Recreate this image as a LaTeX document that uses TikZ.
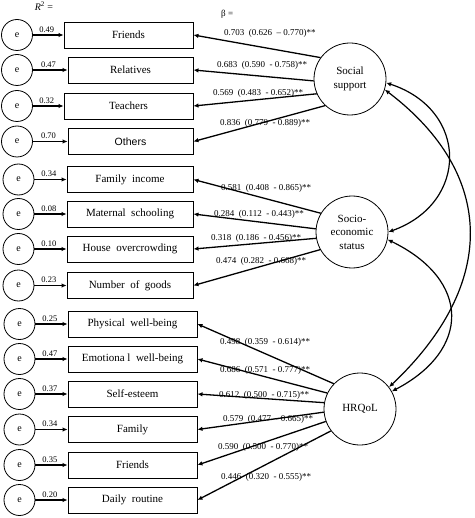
\documentclass[tikz,border=0pt]{standalone}
\usepackage{fontspec}
\setmainfont{Liberation Serif}
\newfontfamily\sansf{Liberation Sans}
\usetikzlibrary{arrows.meta}
\begin{document}
\begin{tikzpicture}[x=1pt,y=-1pt,
 obs/.style={draw, line width=0.9pt, rectangle, minimum height=26pt, inner sep=0pt, font=\fontsize{11}{13}\selectfont},
 err/.style={draw, line width=0.8pt, circle, minimum size=31pt, inner sep=0pt, font=\fontsize{10}{12}\selectfont},
 lat/.style={draw, line width=0.8pt, circle, minimum size=72pt, inner sep=0pt, align=center, font=\fontsize{11}{14}\selectfont},
 arr/.style={line width=1.3pt, -{Latex[length=5pt,width=4.5pt]}},
 cov/.style={line width=1.2pt, {Latex[length=5pt,width=4.5pt]}-{Latex[length=5pt,width=4.5pt]}},
 coef/.style={anchor=west, inner sep=0pt, font=\fontsize{9}{10}\selectfont},
 rsq/.style={above, inner sep=2pt, font=\fontsize{8.5}{10}\selectfont}
]
\useasboundingbox (0,0) rectangle (474,518);

% header labels
\node[font=\fontsize{10}{12}\selectfont] (rhead) at (44,6) {\textit{R}\textsuperscript{2} =};
\node[anchor=west, inner sep=0pt, font=\fontsize{9}{10}\selectfont] (bhead) at (221,14) {β =};

% latent variables
\node[lat] (ss) at (350,79) {Social\\support};
\node[lat, font=\fontsize{11}{13.5}\selectfont] (ses) at (352,232) {Socio-\\economic\\status};
\node[lat] (hrq) at (360,409) {HRQoL};

% observed variables
\node[obs, minimum width=129pt] (b1) at (128.5,35) {Friends};
\node[obs, minimum width=125pt] (b2) at (130.5,70) {Relatives};
\node[obs, minimum width=129pt] (b3) at (128.5,106) {Teachers};
\node[obs, minimum width=125pt] (b4) at (130.5,141.5) {\sansf\fontsize{10.5}{13}\selectfont Others};
\node[obs, minimum width=126pt] (b5) at (130,179.5) {Family\ \ income};
\node[obs, minimum width=126pt] (b6) at (130,214) {Maternal\ \ schooling};
\node[obs, minimum width=126pt] (b7) at (130,249) {House\ \ overcrowding};
\node[obs, minimum width=126pt] (b8) at (130,285.5) {Number\ \ of\ \ goods};
\node[obs, minimum width=129pt] (b9) at (132.5,324) {Physical\ \ well-being};
\node[obs, minimum width=129pt] (b10) at (132.5,359) {Emotiona l\ \ well-being};
\node[obs, minimum width=129pt] (b11) at (132.5,394) {Self-esteem};
\node[obs, minimum width=129pt] (b12) at (132.5,429.5) {Family};
\node[obs, minimum width=129pt] (b13) at (132.5,465) {Friends};
\node[obs, minimum width=129pt] (b14) at (132.5,500) {Daily\ \ routine};

% error terms
\node[err] (e1) at (17,35) {e};
\node[err] (e2) at (17,70) {e};
\node[err] (e3) at (17,106) {e};
\node[err] (e4) at (17,141.5) {e};
\node[err] (e5) at (18.5,179.5) {e};
\node[err] (e6) at (18.5,214) {e};
\node[err] (e7) at (18.5,249) {e};
\node[err] (e8) at (18.5,285.5) {e};
\node[err] (e9) at (19.5,324) {e};
\node[err] (e10) at (19.5,359) {e};
\node[err] (e11) at (19.5,394) {e};
\node[err] (e12) at (19.5,429.5) {e};
\node[err] (e13) at (19.5,465) {e};
\node[err] (e14) at (19.5,500) {e};

% error arrows with R^2
\draw[arr] (e1) -- node[rsq, pos=0.45] {0.49} (b1);
\draw[arr] (e2) -- node[rsq, pos=0.45] {0.47} (b2);
\draw[arr] (e3) -- node[rsq, pos=0.45] {0.32} (b3);
\draw[arr] (e4) -- node[rsq, pos=0.45] {0.70} (b4);
\draw[arr] (e5) -- node[rsq, pos=0.45] {0.34} (b5);
\draw[arr] (e6) -- node[rsq, pos=0.45] {0.08} (b6);
\draw[arr] (e7) -- node[rsq, pos=0.45] {0.10} (b7);
\draw[arr] (e8) -- node[rsq, pos=0.45] {0.23} (b8);
\draw[arr] (e9) -- node[rsq, pos=0.45] {0.25} (b9);
\draw[arr] (e10) -- node[rsq, pos=0.45] {0.47} (b10);
\draw[arr] (e11) -- node[rsq, pos=0.45] {0.37} (b11);
\draw[arr] (e12) -- node[rsq, pos=0.45] {0.34} (b12);
\draw[arr] (e13) -- node[rsq, pos=0.45] {0.35} (b13);
\draw[arr] (e14) -- node[rsq, pos=0.45] {0.20} (b14);

% loadings
\draw[arr] (ss.144) -- (b1.east);
\draw[arr] (ss.183) -- (b2.east);
\draw[arr] (ss.204) -- (b3.east);
\draw[arr] (ss.227) -- (b4.east);
\draw[arr] (ses.149) -- (b5.east);
\draw[arr] (ses.175) -- (b6.east);
\draw[arr] (ses.190) -- (b7.east);
\draw[arr] (ses.209) -- (b8.east);
\draw[arr] (hrq.136) -- (b9.east);
\draw[arr] (hrq.154) -- (b10.east);
\draw[arr] (hrq.170) -- (b11.east);
\draw[arr] (hrq.185) -- (b12.east);
\draw[arr] (hrq.200) -- (b13.east);
\draw[arr] (hrq.217) -- (b14.east);

% coefficient labels
\node[coef] (c1) at (224,33) {0.703\ \ (0.626\ \ – 0.770)**};
\node[coef] (c2) at (217,65) {0.683\ \ (0.590\ \ - 0.758)**};
\node[coef] (c3) at (213,93) {0.569\ \ (0.483\ \ - 0.652)**};
\node[coef] (c4) at (220,123) {0.836\ \ (0.779\ \ - 0.889)**};
\node[coef] (c5) at (221,188) {0.581\ \ (0.408\ \ - 0.865)**};
\node[coef] (c6) at (214,214) {0.284\ \ (0.112\ \ - 0.443)**};
\node[coef] (c7) at (211,238) {0.318\ \ (0.186\ \ - 0.456)**};
\node[coef] (c8) at (216,261) {0.474\ \ (0.282\ \ - 0.668)**};
\node[coef] (c9) at (220,342) {0.498\ \ (0.359\ \ - 0.614)**};
\node[coef] (c10) at (220,370) {0.686\ \ (0.571\ \ - 0.777)**};
\node[coef] (c11) at (219,395) {0.612\ \ (0.500\ \ - 0.715)**};
\node[coef] (c12) at (223,419) {0.579\ \ (0.477\ \ - 0.665)**};
\node[coef] (c13) at (218,447) {0.590\ \ (0.500\ \ - 0.770)**};
\node[coef] (c14) at (221,477) {0.446\ \ (0.320\ \ - 0.555)**};

% covariances
\draw[cov] (ss.-6) .. controls (469,110) and (469,203) .. (ses.0);
\draw[cov] (ss.-17) .. controls (497,175) and (497,285) .. (hrq.37);
\draw[cov] (ses.-12) .. controls (471,280) and (471,350) .. (hrq.29);
\end{tikzpicture}
\end{document}
